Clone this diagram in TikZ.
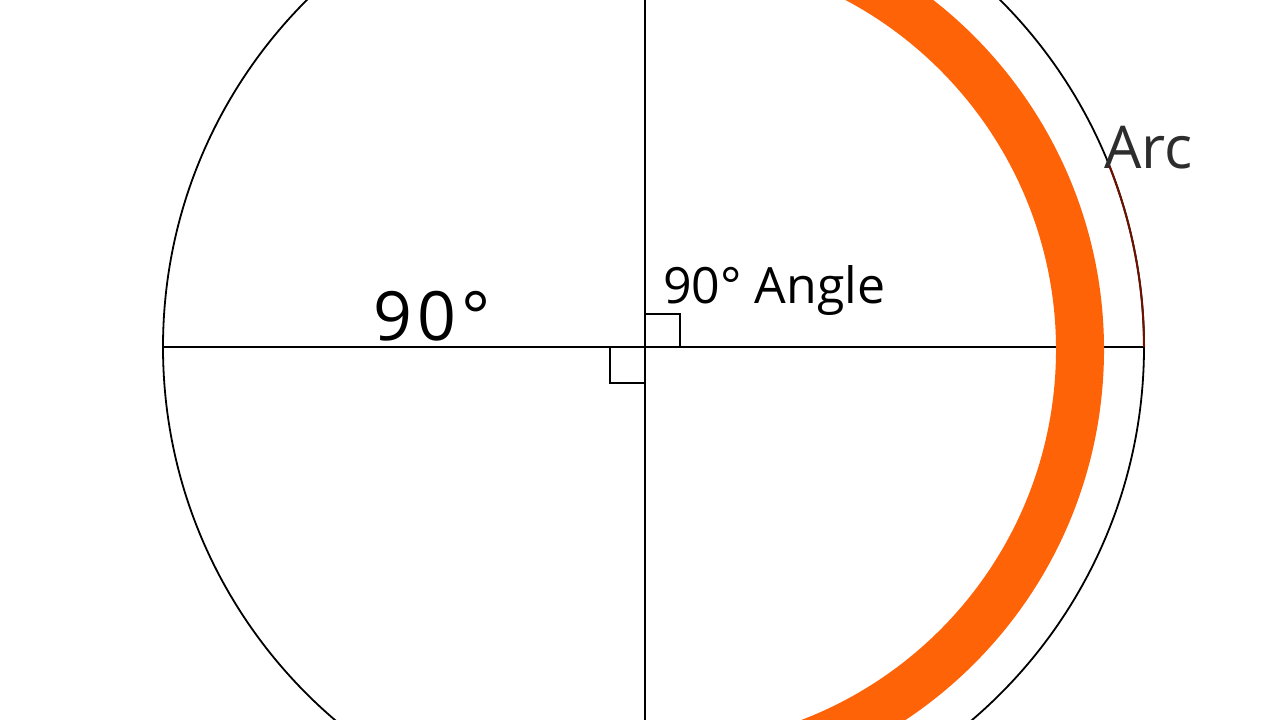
\documentclass[tikz,border=0pt]{standalone}
\usepackage{fontspec}
\setmainfont{Open Sans}
\usetikzlibrary{positioning}
\definecolor{arcorange}{RGB}{255,99,8}
\definecolor{arcred}{RGB}{110,18,0}
\definecolor{labelgray}{RGB}{45,45,45}
\tikzset{
  line/.style={line width=1.8pt, black},
  lbl/.style={inner sep=0pt, anchor=base west},
}

\begin{document}
\begin{tikzpicture}[x=1pt,y=-1pt]
  \useasboundingbox (0,0) rectangle (1280,720);
  \clip (0,0) rectangle (1280,720);
  \fill[white] (0,0) rectangle (1280,720);

  % Points
  \coordinate (o) at (653.5,347);
  \coordinate (x) at (645,347);
  \coordinate (w) at (163,347);
  \coordinate (e) at (1144,347);
  \coordinate (n) at (645,0);
  \coordinate (s) at (645,720);
  \coordinate (m) at (660,350);

  % Circle and diameters
  \draw[line] (o) circle[radius=490.5];
  \draw[line] (w) -- (e);
  \draw[line] (n) -- (s);

  % Right angles
  \draw[line] (x) rectangle ++(35,-33);
  \draw[line] (x) rectangle ++(-35,36);

  % Orange band
  \draw[arcorange, line width=48pt] (m) ++(-85:420) arc[start angle=-85, end angle=85, radius=420];

  % Arc on the circle
  \draw[arcred, line width=2pt] (e) arc[start angle=0, end angle=-22, radius=490.5];

  % Labels
  \node[lbl, font=\fontsize{68}{80}\selectfont\addfontfeatures{LetterSpace=8}] (right) at (373,340) {90°};
  \node[lbl, font=\fontsize{50}{60}\selectfont] (angle) at (663,303) {90° Angle};
  \node[lbl, font=\fontsize{59}{70}\selectfont, text=labelgray] (arc) at (1104,168) {Arc};

\end{tikzpicture}
\end{document}
